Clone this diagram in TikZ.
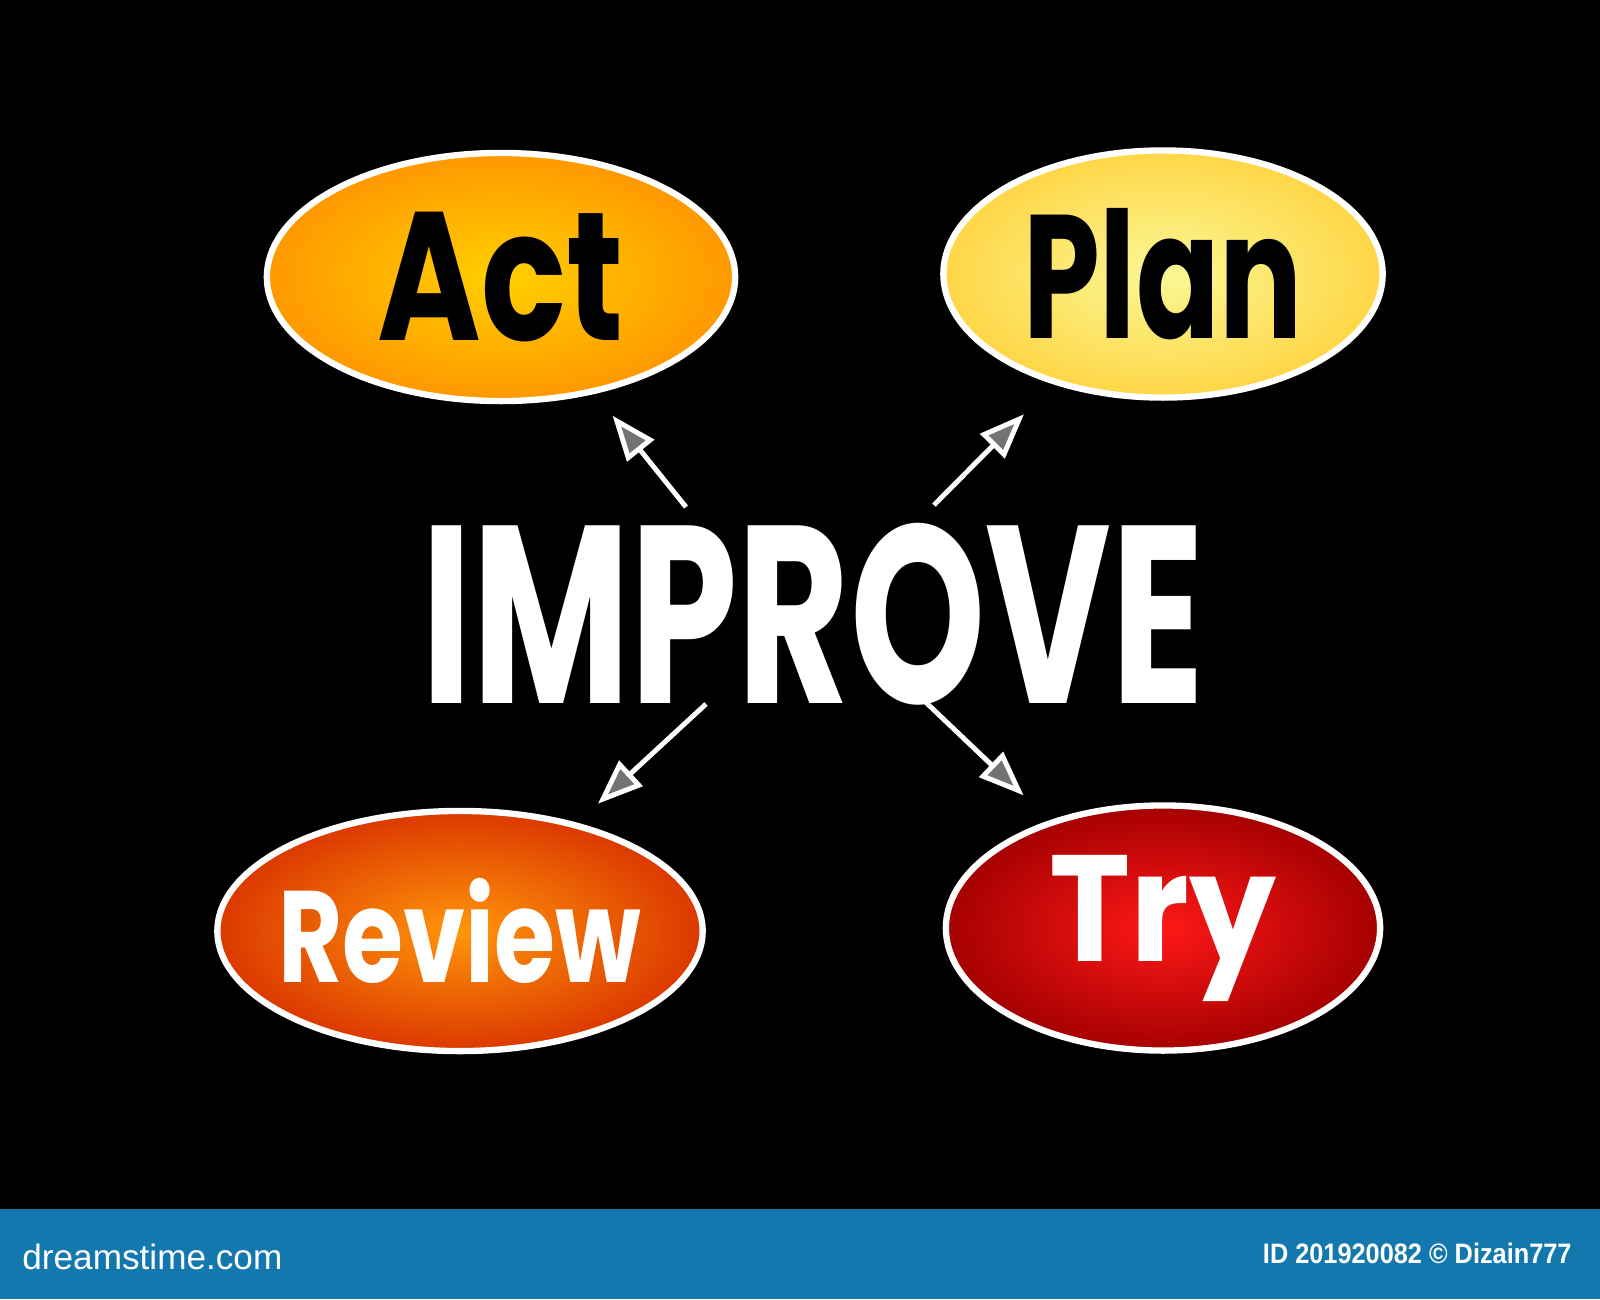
\documentclass[tikz,border=0pt]{standalone}
\usepackage{fontspec}
\usepackage{graphicx}
\usetikzlibrary{shapes.geometric,arrows.meta}
\setmainfont{Liberation Sans}
\newfontfamily\handfont{Poppins}

\definecolor{actin}{RGB}{255,208,0}
\definecolor{actout}{RGB}{255,152,0}
\definecolor{planin}{RGB}{250,248,150}
\definecolor{planout}{RGB}{255,214,70}
\definecolor{reviewin}{RGB}{255,150,10}
\definecolor{reviewout}{RGB}{220,56,0}
\definecolor{tryin}{RGB}{255,24,24}
\definecolor{tryout}{RGB}{165,0,0}
\definecolor{barblue}{RGB}{19,120,174}

\tikzset{
	bubble/.style={ellipse, draw=white, line width=1.8pt, inner xsep=-0.5cm, inner ysep=0pt},
	pointer/.style={draw=white, line width=1.4pt, -{Triangle[length=0.45cm,width=0.34cm,fill=white!45!black]}},
}

\begin{document}
\begin{tikzpicture}[x=0.01cm,y=-0.01cm]
	% Background
	\fill[black] (0,0) rectangle (1600,1209);
	\fill[barblue] (0,1209) rectangle (1600,1299);
	% Bubbles
	\node[bubble, minimum width=4.68cm, minimum height=2.48cm, inner color=actin, outer color=actout,
		text=black, font=\handfont\bfseries\fontsize{52}{52}\selectfont] (act) at (501,277) {\scalebox{0.77}[1]{Act}};
	\node[bubble, minimum width=4.39cm, minimum height=2.47cm, inner color=planin, outer color=planout,
		text=black, font=\handfont\bfseries\fontsize{50}{50}\selectfont] (plan) at (1163,274) {\scalebox{0.7}[1]{Plan}};
	\node[bubble, minimum width=4.85cm, minimum height=2.40cm, inner color=reviewin, outer color=reviewout,
		text=white, font=\handfont\bfseries\fontsize{37}{37}\selectfont] (review) at (460,931) {\scalebox{0.76}[1]{Review}};
	\node[bubble, minimum width=4.34cm, minimum height=2.45cm, inner color=tryin, outer color=tryout,
		text=white, font=\handfont\bfseries\fontsize{43}{43}\selectfont] (try) at (1163,928) {\scalebox{0.91}[1]{Try}};
	% Centre word
	\node[text=white, font=\handfont\bfseries\fontsize{72}{72}\selectfont] (improve) at (813,614) {\scalebox{0.68}[1]{IMPROVE}};
	% Arrows
	\coordinate (actTail) at (686,507);
	\coordinate (planTail) at (934,505);
	\coordinate (reviewTail) at (706,704);
	\coordinate (tryTail) at (915,692);
	\draw[pointer, shorten >=0.28cm] (actTail) -- (act);
	\draw[pointer, shorten >=0.42cm] (planTail) -- (plan);
	\draw[pointer, shorten >=0.28cm] (reviewTail) -- (review);
	\draw[pointer, shorten >=0.36cm] (tryTail) -- (try);
	% Footer
	\node[text=white, font=\fontsize{10}{10}\selectfont, anchor=west] (site) at (10,1257) {dreamstime.com};
	\node[text=white, font=\bfseries\fontsize{8}{8}\selectfont, anchor=east] (credit) at (1584,1253) {\scalebox{0.9}[1]{ID 201920082 © Dizain777}};
\end{tikzpicture}
\end{document}
